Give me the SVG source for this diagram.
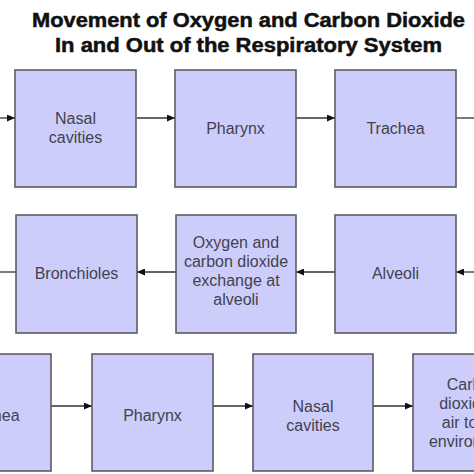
<svg xmlns="http://www.w3.org/2000/svg" width="474" height="474" viewBox="0 0 474 474">
<defs>
<style>
.box{fill:#cdcdfb;stroke:#5c5c66;stroke-width:1.6}
.lbl{font-family:"Liberation Sans",Arial,sans-serif;font-size:16px;fill:#42424e;text-anchor:middle}
.title{font-family:"Liberation Sans",Arial,sans-serif;font-size:20px;font-weight:bold;fill:#111;stroke:#111;stroke-width:0.5;text-anchor:middle}
.con{stroke:#333;stroke-width:1.3;fill:none}
</style>
<marker id="ah" viewBox="0 0 8 7" refX="8" refY="3.5" markerWidth="8" markerHeight="7" markerUnits="userSpaceOnUse" orient="auto">
<path d="M0,0 L8,3.5 L0,7 z" fill="#111"/>
</marker>
</defs>
<rect width="474" height="474" fill="#fff"/>
<g id="title">
<text class="title" x="248.5" y="27" textLength="433" lengthAdjust="spacingAndGlyphs">Movement of Oxygen and Carbon Dioxide</text>
<text class="title" x="248.5" y="52" textLength="387" lengthAdjust="spacingAndGlyphs">In and Out of the Respiratory System</text>
</g>
<g id="connectors">
<line class="con" x1="0" y1="118" x2="15" y2="118" marker-end="url(#ah)"/>
<line class="con" x1="137" y1="118" x2="175" y2="118" marker-end="url(#ah)"/>
<line class="con" x1="296" y1="118" x2="335" y2="118" marker-end="url(#ah)"/>
<line class="con" x1="456" y1="118" x2="474" y2="118"/>
<line class="con" x1="474" y1="272" x2="456" y2="272" marker-end="url(#ah)"/>
<line class="con" x1="335" y1="272" x2="296" y2="272" marker-end="url(#ah)"/>
<line class="con" x1="176" y1="272" x2="137" y2="272" marker-end="url(#ah)"/>
<line class="con" x1="16" y1="272" x2="0" y2="272"/>
<line class="con" x1="51" y1="406" x2="92" y2="406" marker-end="url(#ah)"/>
<line class="con" x1="213" y1="406" x2="253" y2="406" marker-end="url(#ah)"/>
<line class="con" x1="373" y1="406" x2="413" y2="406" marker-end="url(#ah)"/>
</g>
<g id="n1"><rect class="box" x="15" y="70" width="121" height="117"/><text class="lbl" x="75.5" y="124">Nasal</text><text class="lbl" x="75.5" y="143">cavities</text></g>
<g id="n2"><rect class="box" x="175" y="70" width="121" height="117"/><text class="lbl" x="235.5" y="134">Pharynx</text></g>
<g id="n3"><rect class="box" x="335" y="70" width="121" height="117"/><text class="lbl" x="395.5" y="134">Trachea</text></g>
<g id="n4"><rect class="box" x="335" y="215" width="121" height="118"/><text class="lbl" x="395.5" y="279">Alveoli</text></g>
<g id="n5"><rect class="box" x="176" y="215" width="120" height="118"/><text class="lbl" x="236" y="248">Oxygen and</text><text class="lbl" x="236" y="267">carbon dioxide</text><text class="lbl" x="236" y="286">exchange at</text><text class="lbl" x="236" y="305">alveoli</text></g>
<g id="n6"><rect class="box" x="16" y="215" width="121" height="118"/><text class="lbl" x="76.5" y="279">Bronchioles</text></g>
<g id="n7"><rect class="box" x="-70" y="354" width="121" height="117"/><text class="lbl" x="-9.5" y="421">Trachea</text></g>
<g id="n8"><rect class="box" x="92" y="354" width="121" height="117"/><text class="lbl" x="152.5" y="421">Pharynx</text></g>
<g id="n9"><rect class="box" x="253" y="354" width="120" height="117"/><text class="lbl" x="313" y="412">Nasal</text><text class="lbl" x="313" y="431">cavities</text></g>
<g id="n10"><rect class="box" x="413" y="354" width="121" height="117"/><text class="lbl" x="473" y="390">Carbon</text><text class="lbl" x="473" y="409">dioxide in</text><text class="lbl" x="473" y="428">air to the</text><text class="lbl" x="473" y="447">environment</text></g>
</svg>
